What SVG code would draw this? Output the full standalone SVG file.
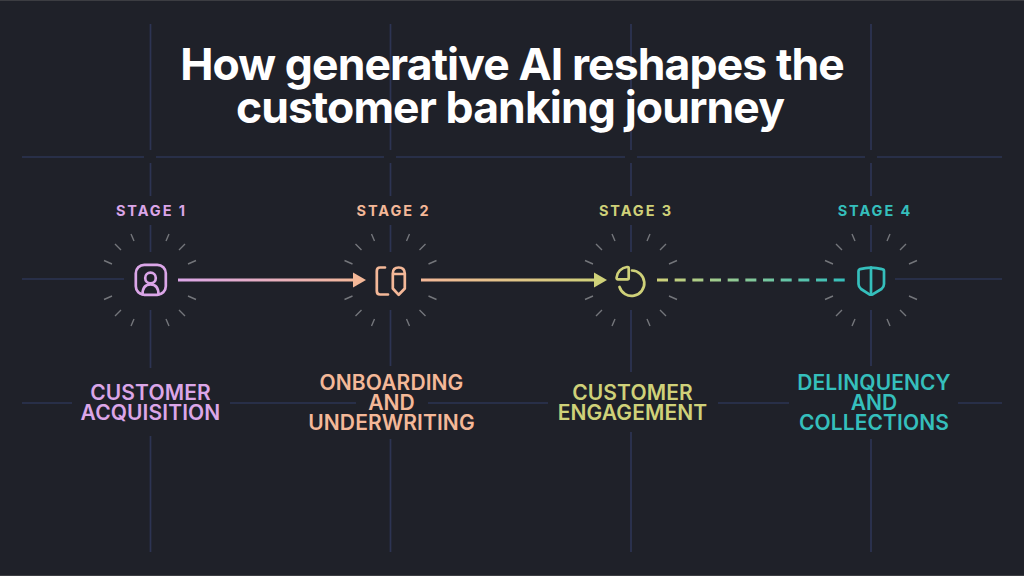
<svg xmlns="http://www.w3.org/2000/svg" xmlns:xlink="http://www.w3.org/1999/xlink" width="1024" height="576" viewBox="0 0 1024 576">
<style>
.grid{stroke:#2d3453;stroke-width:1.700;fill:none}
.ray{stroke:#74767b;stroke-width:1.400;fill:none}
.title{font-family:Inter,"Liberation Sans",sans-serif;font-weight:700;font-size:44.500px;fill:#fff;text-anchor:middle;letter-spacing:-.9px}
.stage{font-family:Inter,"Liberation Sans",sans-serif;font-weight:700;font-size:14.500px;letter-spacing:1.950px;text-anchor:middle}
.label{font-family:Inter,"Liberation Sans",sans-serif;font-weight:600;font-size:21px;letter-spacing:.1px;text-anchor:middle}
.ic{fill:none;stroke-width:2.700;stroke-linecap:round;stroke-linejoin:round}
.conn{fill:none;stroke-width:3}
</style>
<defs>
<linearGradient id="g1" gradientUnits="userSpaceOnUse" x1="178" y1="0" x2="360" y2="0"><stop offset="0" stop-color="#dba6e8"/><stop offset="1" stop-color="#f4b898"/></linearGradient>
<linearGradient id="g2" gradientUnits="userSpaceOnUse" x1="421" y1="0" x2="600" y2="0"><stop offset="0" stop-color="#f4b898"/><stop offset="1" stop-color="#cfd179"/></linearGradient>
<linearGradient id="g3" gradientUnits="userSpaceOnUse" x1="657" y1="0" x2="846" y2="0"><stop offset="0" stop-color="#cfd179"/><stop offset="1" stop-color="#35bfbc"/></linearGradient>
<marker id="a1" markerUnits="userSpaceOnUse" markerWidth="14" markerHeight="16" refX="1" refY="8" orient="auto"><path d="M0 .5L13 8L0 15.500Z" fill="#f4b898"/></marker>
<marker id="a2" markerUnits="userSpaceOnUse" markerWidth="14" markerHeight="16" refX="1" refY="8" orient="auto"><path d="M0 .5L13 8L0 15.500Z" fill="#cfd179"/></marker>
<g id="rays" class="ray">
<path d="M-16-39L-19-46M16-39L19-46M-29-30L-35-36M29-30L35-36M-38-16L-46-19.500M38-16L46-19.500M-38 16L-46 19.500M38 16L46 19.500M-29 30L-35 36M29 30L35 36M-16 39L-19 46M16 39L19 46"/>
</g>
</defs>
<rect width="1024" height="576" fill="#1f2129"/>
<path d="M0 .5H1024M0 575.500H1024" stroke="#3c3d42" stroke-width="1" fill="none"/>
<g id="grid" class="grid">
<path d="M150.500 24V150M150.500 163V196M150.500 225V252M150.500 310V368M150.500 436V552"/>
<path d="M390.500 24V150M390.500 163V196M390.500 225V252M390.500 310V366M390.500 439V552"/>
<path d="M631 24V150M631 163V196M631 225V252M631 310V372M631 432V552"/>
<path d="M871 24V150M871 163V196M871 225V252M871 310V366M871 439V552"/>
<path d="M22 157H144M156 157H384M396 157H625M637 157H865M877 157H1002"/>
<path d="M22 279H124M895 279H1002"/>
<path d="M22 403H72M230 403H356M428 403H548M718 403H789M958 403H1002"/>
</g>
<text class="title" x="512" y="80">How generative AI reshapes the</text>
<text class="title" x="510" y="123">customer banking journey</text>
<g id="connectors">
<line class="conn" x1="178" y1="280" x2="354" y2="280" stroke="url(#g1)" marker-end="url(#a1)"/>
<line class="conn" x1="421" y1="280" x2="595" y2="280" stroke="url(#g2)" marker-end="url(#a2)"/>
<line class="conn" x1="657" y1="280" x2="846" y2="280" stroke="url(#g3)" stroke-dasharray="11 6.670"/>
</g>
<g id="stage1" fill="#dba6e8">
<text class="stage" x="151.500" y="216.300">STAGE 1</text>
<use xlink:href="#rays" href="#rays" x="150" y="280"/>
<g class="ic" stroke="#dba6e8">
<rect x="135.800" y="264.800" width="30" height="30" rx="8.500"/>
<circle cx="150.500" cy="278" r="5.300"/>
<path d="M142.500 294.500C142.500 287.500 146 284.500 150.500 284.500S158.500 287.500 158.500 294.500"/>
</g>
<text class="label" x="150.500" y="399.500">CUSTOMER</text>
<text class="label" x="150.500" y="419.500">ACQUISITION</text>
</g>
<g id="stage2" fill="#f4b898">
<text class="stage" x="393.500" y="216.300">STAGE 2</text>
<use xlink:href="#rays" href="#rays" x="390.500" y="280"/>
<g class="ic" stroke="#f4b898">
<path d="M385 267.500H380Q376.800 267.500 376.800 271V291Q376.800 294.500 380 294.500H388"/>
<path d="M392.800 274V273.500Q392.800 267.500 398.700 267.500T404.800 273.500V288.500L398.700 294.800L392.800 288.500ZM392.800 274H404.800"/>
</g>
<text class="label" x="391.500" y="389.500">ONBOARDING</text>
<text class="label" x="391.500" y="409.500">AND</text>
<text class="label" x="391.500" y="429.500">UNDERWRITING</text>
</g>
<g id="stage3" fill="#cfd179">
<text class="stage" x="636" y="216.300">STAGE 3</text>
<use xlink:href="#rays" href="#rays" x="631" y="280"/>
<g class="ic" stroke="#cfd179">
<path d="M632 270.500A12.700 12.700 0 1 1 619.500 287"/>
<path d="M628.700 268V278Q628.700 279.300 627.400 279.300H618Q616.500 279.300 616.600 277.500A11.500 11.500 0 0 1 627 267Q628.700 266.900 628.700 268Z"/>
</g>
<text class="label" x="632.500" y="399.500">CUSTOMER</text>
<text class="label" x="632.500" y="419.500">ENGAGEMENT</text>
</g>
<g id="stage4" fill="#35bfbc">
<text class="stage" x="875" y="216.300">STAGE 4</text>
<use xlink:href="#rays" href="#rays" x="871" y="280"/>
<g class="ic" stroke="#35bfbc">
<path d="M858.500 271Q858.500 269.500 860 269.100Q871 266 882 269.100Q884 269.500 884 271V284Q884 287 881.500 289L873 294.200Q871 295 869 294.200L861 289Q858.500 287 858.500 284Z"/>
<path d="M871 267.500V294.500"/>
</g>
<text class="label" x="874" y="389.500">DELINQUENCY</text>
<text class="label" x="874" y="409.500">AND</text>
<text class="label" x="874" y="429.500">COLLECTIONS</text>
</g>
</svg>
